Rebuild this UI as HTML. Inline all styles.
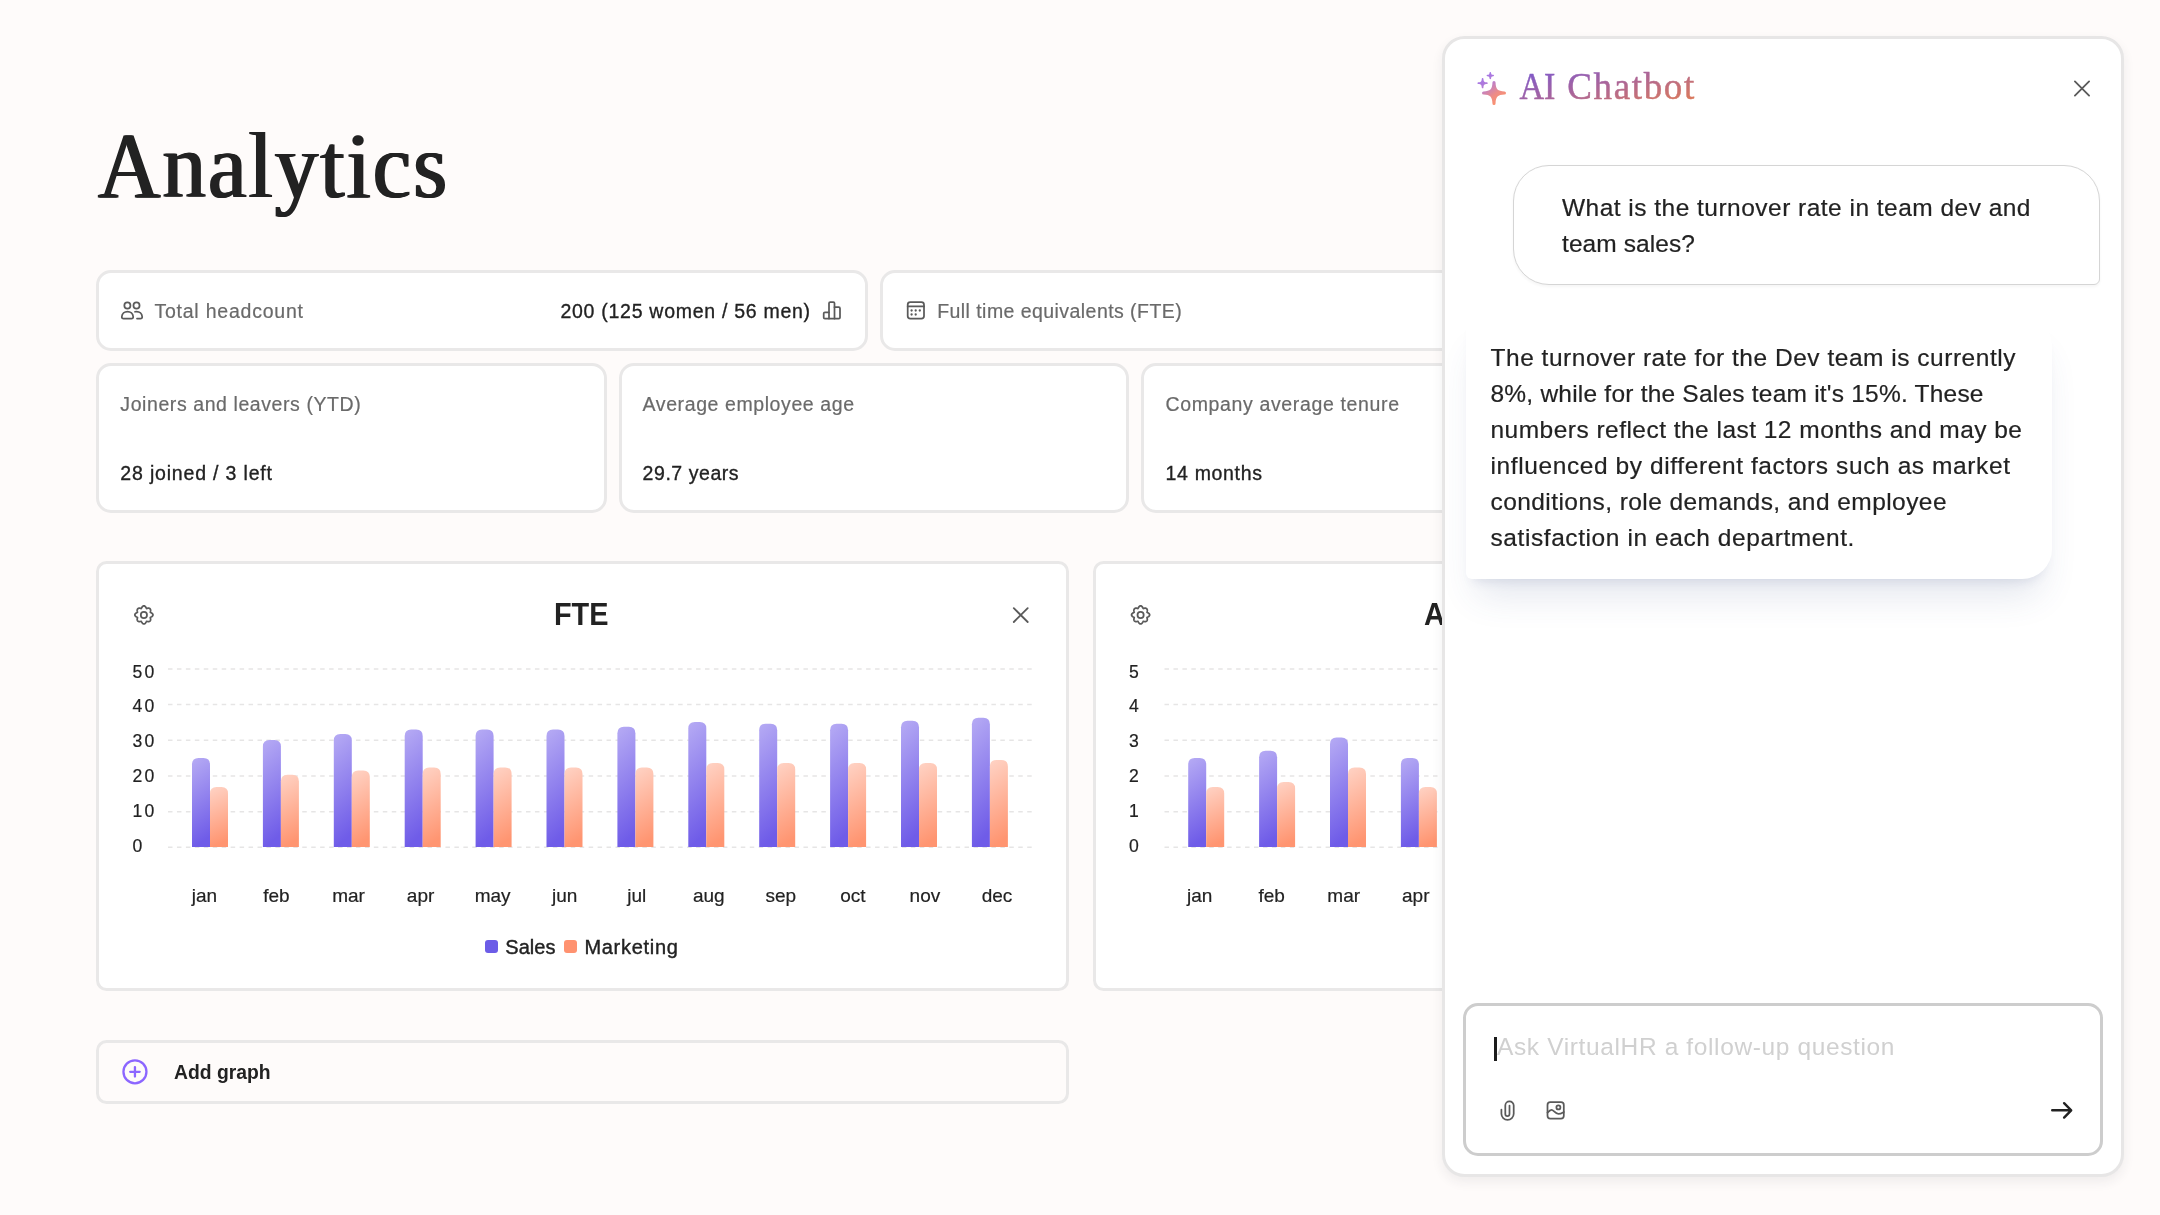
<!DOCTYPE html>
<html><head><meta charset="utf-8"><title>Analytics</title>
<style>
html,body{margin:0;padding:0}
body{width:2160px;height:1215px;background:#fefbfa;position:relative;overflow:hidden;font-family:"Liberation Sans",sans-serif;color:#222222}
.card{position:absolute;box-sizing:border-box}
.t{position:absolute;white-space:nowrap;line-height:1}
.a{position:absolute}
.layer{position:absolute;left:0;top:0;width:2160px;height:1215px;will-change:transform}
svg{position:absolute;overflow:visible}
</style></head><body>
<div class="layer">
<div class="card" style="left:96px;top:270px;width:772px;height:81px;border-radius:15px;border:3px solid #e9e8e8;background:#fff;"></div>
<div class="card" style="left:880px;top:270px;width:772px;height:81px;border-radius:15px;border:3px solid #e9e8e8;background:#fff;"></div>
<div class="card" style="left:96px;top:363px;width:510.67px;height:150px;border-radius:15px;border:3px solid #e9e8e8;background:#fff;"></div>
<div class="card" style="left:618.67px;top:363px;width:510.67px;height:150px;border-radius:15px;border:3px solid #e9e8e8;background:#fff;"></div>
<div class="card" style="left:1141.33px;top:363px;width:510.67px;height:150px;border-radius:15px;border:3px solid #e9e8e8;background:#fff;"></div>
<div class="card" style="left:96px;top:561px;width:972.5px;height:430.3px;border-radius:10.5px;border:3px solid #e9e8e8;background:#fff;"></div>
<div class="card" style="left:1093px;top:561px;width:972.5px;height:430.3px;border-radius:10.5px;border:3px solid #e9e8e8;background:#fff;"></div>
<div class="card" style="left:96px;top:1039.5px;width:972.5px;height:64.5px;border-radius:10.5px;border:3px solid #e9e8e8;background:#fefbfa;"></div>
<svg width="0" height="0" style="left:0;top:0"><defs>
<linearGradient id="gp" x1="0" y1="0" x2="0.14" y2="1"><stop offset="0" stop-color="#b6abf4"/><stop offset="1" stop-color="#6f5ce8"/></linearGradient>
<linearGradient id="go" x1="0" y1="0" x2="0.14" y2="1"><stop offset="0" stop-color="#ffd3c5"/><stop offset="1" stop-color="#ff9571"/></linearGradient>
</defs></svg>
<svg style="left:0;top:0" width="2160" height="1215" viewBox="0 0 2160 1215"><line x1="168" y1="668.9" x2="1033" y2="668.9" stroke="#e6e5e5" stroke-width="1.5" stroke-dasharray="4.5 4.45"/><line x1="168" y1="704.6" x2="1033" y2="704.6" stroke="#e6e5e5" stroke-width="1.5" stroke-dasharray="4.5 4.45"/><line x1="168" y1="740.3" x2="1033" y2="740.3" stroke="#e6e5e5" stroke-width="1.5" stroke-dasharray="4.5 4.45"/><line x1="168" y1="776.0" x2="1033" y2="776.0" stroke="#e6e5e5" stroke-width="1.5" stroke-dasharray="4.5 4.45"/><line x1="168" y1="811.7" x2="1033" y2="811.7" stroke="#e6e5e5" stroke-width="1.5" stroke-dasharray="4.5 4.45"/><line x1="168" y1="847.3" x2="1033" y2="847.3" stroke="#e6e5e5" stroke-width="1.5" stroke-dasharray="4.5 4.45"/><path d="M192.0 847 V764.5 Q192.0 758.0 198.5 758.0 H203.5 Q210.0 758.0 210.0 764.5 V847 Z" fill="url(#gp)"/><path d="M210.0 847 V793.5 Q210.0 787.0 216.5 787.0 H221.5 Q228.0 787.0 228.0 793.5 V847 Z" fill="url(#go)"/><path d="M262.9 847 V746.5 Q262.9 740.0 269.4 740.0 H274.4 Q280.9 740.0 280.9 746.5 V847 Z" fill="url(#gp)"/><path d="M280.9 847 V781.3 Q280.9 774.8 287.4 774.8 H292.4 Q298.9 774.8 298.9 781.3 V847 Z" fill="url(#go)"/><path d="M333.8 847 V740.5 Q333.8 734.0 340.3 734.0 H345.3 Q351.8 734.0 351.8 740.5 V847 Z" fill="url(#gp)"/><path d="M351.8 847 V776.9 Q351.8 770.4 358.3 770.4 H363.3 Q369.8 770.4 369.8 776.9 V847 Z" fill="url(#go)"/><path d="M404.7 847 V736.1 Q404.7 729.6 411.2 729.6 H416.2 Q422.7 729.6 422.7 736.1 V847 Z" fill="url(#gp)"/><path d="M422.7 847 V773.9 Q422.7 767.4 429.2 767.4 H434.2 Q440.7 767.4 440.7 773.9 V847 Z" fill="url(#go)"/><path d="M475.6 847 V736.1 Q475.6 729.6 482.1 729.6 H487.1 Q493.6 729.6 493.6 736.1 V847 Z" fill="url(#gp)"/><path d="M493.6 847 V773.9 Q493.6 767.4 500.1 767.4 H505.1 Q511.6 767.4 511.6 773.9 V847 Z" fill="url(#go)"/><path d="M546.5 847 V736.1 Q546.5 729.6 553.0 729.6 H558.0 Q564.5 729.6 564.5 736.1 V847 Z" fill="url(#gp)"/><path d="M564.5 847 V773.9 Q564.5 767.4 571.0 767.4 H576.0 Q582.5 767.4 582.5 773.9 V847 Z" fill="url(#go)"/><path d="M617.4 847 V733.2 Q617.4 726.7 623.9 726.7 H628.9 Q635.4 726.7 635.4 733.2 V847 Z" fill="url(#gp)"/><path d="M635.4 847 V773.9 Q635.4 767.4 641.9 767.4 H646.9 Q653.4 767.4 653.4 773.9 V847 Z" fill="url(#go)"/><path d="M688.3 847 V728.5 Q688.3 722.0 694.8 722.0 H699.8 Q706.3 722.0 706.3 728.5 V847 Z" fill="url(#gp)"/><path d="M706.3 847 V769.5 Q706.3 763.0 712.8 763.0 H717.8 Q724.3 763.0 724.3 769.5 V847 Z" fill="url(#go)"/><path d="M759.2 847 V730.2 Q759.2 723.7 765.7 723.7 H770.7 Q777.2 723.7 777.2 730.2 V847 Z" fill="url(#gp)"/><path d="M777.2 847 V769.5 Q777.2 763.0 783.7 763.0 H788.7 Q795.2 763.0 795.2 769.5 V847 Z" fill="url(#go)"/><path d="M830.1 847 V730.2 Q830.1 723.7 836.6 723.7 H841.6 Q848.1 723.7 848.1 730.2 V847 Z" fill="url(#gp)"/><path d="M848.1 847 V769.5 Q848.1 763.0 854.6 763.0 H859.6 Q866.1 763.0 866.1 769.5 V847 Z" fill="url(#go)"/><path d="M901.0 847 V727.2 Q901.0 720.7 907.5 720.7 H912.5 Q919.0 720.7 919.0 727.2 V847 Z" fill="url(#gp)"/><path d="M919.0 847 V769.5 Q919.0 763.0 925.5 763.0 H930.5 Q937.0 763.0 937.0 769.5 V847 Z" fill="url(#go)"/><path d="M971.9 847 V724.3 Q971.9 717.8 978.4 717.8 H983.4 Q989.9 717.8 989.9 724.3 V847 Z" fill="url(#gp)"/><path d="M989.9 847 V766.5 Q989.9 760.0 996.4 760.0 H1001.4 Q1007.9 760.0 1007.9 766.5 V847 Z" fill="url(#go)"/></svg>
<svg style="left:0;top:0" width="2160" height="1215" viewBox="0 0 2160 1215"><line x1="1164.5" y1="668.9" x2="2030" y2="668.9" stroke="#e6e5e5" stroke-width="1.5" stroke-dasharray="4.5 4.45"/><line x1="1164.5" y1="704.6" x2="2030" y2="704.6" stroke="#e6e5e5" stroke-width="1.5" stroke-dasharray="4.5 4.45"/><line x1="1164.5" y1="740.3" x2="2030" y2="740.3" stroke="#e6e5e5" stroke-width="1.5" stroke-dasharray="4.5 4.45"/><line x1="1164.5" y1="776.0" x2="2030" y2="776.0" stroke="#e6e5e5" stroke-width="1.5" stroke-dasharray="4.5 4.45"/><line x1="1164.5" y1="811.7" x2="2030" y2="811.7" stroke="#e6e5e5" stroke-width="1.5" stroke-dasharray="4.5 4.45"/><line x1="1164.5" y1="847.3" x2="2030" y2="847.3" stroke="#e6e5e5" stroke-width="1.5" stroke-dasharray="4.5 4.45"/><path d="M1188.2 847 V764.5 Q1188.2 758.0 1194.7 758.0 H1199.7 Q1206.2 758.0 1206.2 764.5 V847 Z" fill="url(#gp)"/><path d="M1206.2 847 V793.5 Q1206.2 787.0 1212.7 787.0 H1217.7 Q1224.2 787.0 1224.2 793.5 V847 Z" fill="url(#go)"/><path d="M1259.1 847 V757.2 Q1259.1 750.7 1265.6 750.7 H1270.6 Q1277.1 750.7 1277.1 757.2 V847 Z" fill="url(#gp)"/><path d="M1277.1 847 V788.5 Q1277.1 782.0 1283.6 782.0 H1288.6 Q1295.1 782.0 1295.1 788.5 V847 Z" fill="url(#go)"/><path d="M1330.0 847 V743.9 Q1330.0 737.4 1336.5 737.4 H1341.5 Q1348.0 737.4 1348.0 743.9 V847 Z" fill="url(#gp)"/><path d="M1348.0 847 V773.9 Q1348.0 767.4 1354.5 767.4 H1359.5 Q1366.0 767.4 1366.0 773.9 V847 Z" fill="url(#go)"/><path d="M1400.9 847 V764.5 Q1400.9 758.0 1407.4 758.0 H1412.4 Q1418.9 758.0 1418.9 764.5 V847 Z" fill="url(#gp)"/><path d="M1418.9 847 V793.5 Q1418.9 787.0 1425.4 787.0 H1430.4 Q1436.9 787.0 1436.9 793.5 V847 Z" fill="url(#go)"/><path d="M1471.8 847 V746.5 Q1471.8 740.0 1478.3 740.0 H1483.3 Q1489.8 740.0 1489.8 746.5 V847 Z" fill="url(#gp)"/><path d="M1489.8 847 V781.5 Q1489.8 775.0 1496.3 775.0 H1501.3 Q1507.8 775.0 1507.8 781.5 V847 Z" fill="url(#go)"/><path d="M1542.7 847 V741.5 Q1542.7 735.0 1549.2 735.0 H1554.2 Q1560.7 735.0 1560.7 741.5 V847 Z" fill="url(#gp)"/><path d="M1560.7 847 V776.5 Q1560.7 770.0 1567.2 770.0 H1572.2 Q1578.7 770.0 1578.7 776.5 V847 Z" fill="url(#go)"/><path d="M1613.6 847 V736.5 Q1613.6 730.0 1620.1 730.0 H1625.1 Q1631.6 730.0 1631.6 736.5 V847 Z" fill="url(#gp)"/><path d="M1631.6 847 V773.5 Q1631.6 767.0 1638.1 767.0 H1643.1 Q1649.6 767.0 1649.6 773.5 V847 Z" fill="url(#go)"/><path d="M1684.5 847 V732.5 Q1684.5 726.0 1691.0 726.0 H1696.0 Q1702.5 726.0 1702.5 732.5 V847 Z" fill="url(#gp)"/><path d="M1702.5 847 V771.5 Q1702.5 765.0 1709.0 765.0 H1714.0 Q1720.5 765.0 1720.5 771.5 V847 Z" fill="url(#go)"/><path d="M1755.4 847 V730.5 Q1755.4 724.0 1761.9 724.0 H1766.9 Q1773.4 724.0 1773.4 730.5 V847 Z" fill="url(#gp)"/><path d="M1773.4 847 V769.5 Q1773.4 763.0 1779.9 763.0 H1784.9 Q1791.4 763.0 1791.4 769.5 V847 Z" fill="url(#go)"/><path d="M1826.3 847 V728.5 Q1826.3 722.0 1832.8 722.0 H1837.8 Q1844.3 722.0 1844.3 728.5 V847 Z" fill="url(#gp)"/><path d="M1844.3 847 V769.5 Q1844.3 763.0 1850.8 763.0 H1855.8 Q1862.3 763.0 1862.3 769.5 V847 Z" fill="url(#go)"/><path d="M1897.2 847 V726.5 Q1897.2 720.0 1903.7 720.0 H1908.7 Q1915.2 720.0 1915.2 726.5 V847 Z" fill="url(#gp)"/><path d="M1915.2 847 V768.5 Q1915.2 762.0 1921.7 762.0 H1926.7 Q1933.2 762.0 1933.2 768.5 V847 Z" fill="url(#go)"/><path d="M1968.1 847 V724.5 Q1968.1 718.0 1974.6 718.0 H1979.6 Q1986.1 718.0 1986.1 724.5 V847 Z" fill="url(#gp)"/><path d="M1986.1 847 V766.5 Q1986.1 760.0 1992.6 760.0 H1997.6 Q2004.1 760.0 2004.1 766.5 V847 Z" fill="url(#go)"/></svg>
<div class="a" style="left:484.9px;top:939.9px;width:13px;height:13px;border-radius:3px;background:#6c5ce7"></div>
<div class="a" style="left:563.9px;top:939.9px;width:13px;height:13px;border-radius:3px;background:#ff9270"></div>
<svg style="left:0;top:0" width="2160" height="1215" viewBox="0 0 2160 1215" fill="none" stroke-linecap="round" stroke-linejoin="round"><g stroke="#5a5a5a" stroke-width="1.75"><circle cx="127.4" cy="305.5" r="3.05"/><circle cx="136.5" cy="305.5" r="3.05"/><path d="M123.6 318.6 H131.4 Q133.3 318.6 133.2 316.8 C133 313.5 130.4 311.5 127.5 311.5 C124.6 311.5 122 313.5 121.8 316.8 Q121.7 318.6 123.6 318.6 Z"/><path d="M135 311.8 Q135.8 311.5 136.6 311.5 C139.5 311.5 142 313.5 142.2 316.8 Q142.3 318.6 140.4 318.6 H137"/></g><g stroke="#5a5a5a" stroke-width="1.75"><path d="M829 312.3 H824.9 Q823.7 312.3 823.7 313.5 V317.4 Q823.7 318.6 824.9 318.6 H838.8 Q840 318.6 840 317.4 V308.4 Q840 307.2 838.8 307.2 H834.5"/><path d="M829 318.6 V303.2 Q829 302 830.2 302 H833.3 Q834.5 302 834.5 303.2 V318.6"/></g><g stroke="#5a5a5a" stroke-width="1.75"><rect x="907.7" y="302.2" width="16.3" height="16.4" rx="2.6"/><path d="M907.7 306.4 H924"/></g><g fill="#5a5a5a"><circle cx="911.6" cy="310.5" r="1.15"/><circle cx="915.7" cy="310.5" r="1.15"/><circle cx="919.8" cy="310.5" r="1.15"/><circle cx="911.6" cy="314.5" r="1.15"/><circle cx="915.7" cy="314.5" r="1.15"/></g><g stroke="#5a5a5a" stroke-width="1.75"><path d="M143.90 605.85 L144.34 605.92 L144.77 606.11 L145.16 606.41 L145.51 606.80 L145.82 607.24 L146.08 607.71 L146.31 608.16 L146.54 608.53 L146.96 608.43 L147.42 608.31 L147.90 608.22 L148.39 608.18 L148.86 608.22 L149.29 608.33 L149.68 608.52 L150.02 608.78 L150.28 609.12 L150.47 609.51 L150.58 609.94 L150.62 610.41 L150.58 610.90 L150.49 611.38 L150.37 611.84 L150.27 612.26 L150.64 612.49 L151.09 612.72 L151.56 612.98 L152.00 613.29 L152.39 613.64 L152.69 614.03 L152.88 614.46 L152.95 614.90 L152.88 615.34 L152.69 615.77 L152.39 616.16 L152.00 616.51 L151.56 616.82 L151.09 617.08 L150.64 617.31 L150.27 617.54 L150.37 617.96 L150.49 618.42 L150.58 618.90 L150.62 619.39 L150.58 619.86 L150.47 620.29 L150.28 620.68 L150.02 621.02 L149.68 621.28 L149.29 621.47 L148.86 621.58 L148.39 621.62 L147.90 621.58 L147.42 621.49 L146.96 621.37 L146.54 621.27 L146.31 621.64 L146.08 622.09 L145.82 622.56 L145.51 623.00 L145.16 623.39 L144.77 623.69 L144.34 623.88 L143.90 623.95 L143.46 623.88 L143.03 623.69 L142.64 623.39 L142.29 623.00 L141.98 622.56 L141.72 622.09 L141.49 621.64 L141.26 621.27 L140.84 621.37 L140.38 621.49 L139.90 621.58 L139.41 621.62 L138.94 621.58 L138.51 621.47 L138.12 621.28 L137.78 621.02 L137.52 620.68 L137.33 620.29 L137.22 619.86 L137.18 619.39 L137.22 618.90 L137.31 618.42 L137.43 617.96 L137.53 617.54 L137.16 617.31 L136.71 617.08 L136.24 616.82 L135.80 616.51 L135.41 616.16 L135.11 615.77 L134.92 615.34 L134.85 614.90 L134.92 614.46 L135.11 614.03 L135.41 613.64 L135.80 613.29 L136.24 612.98 L136.71 612.72 L137.16 612.49 L137.53 612.26 L137.43 611.84 L137.31 611.38 L137.22 610.90 L137.18 610.41 L137.22 609.94 L137.33 609.51 L137.52 609.12 L137.78 608.78 L138.12 608.52 L138.51 608.33 L138.94 608.22 L139.41 608.18 L139.90 608.22 L140.38 608.31 L140.84 608.43 L141.26 608.53 L141.49 608.16 L141.72 607.71 L141.98 607.24 L142.29 606.80 L142.64 606.41 L143.03 606.11 L143.46 605.92 Z"/><circle cx="143.9" cy="614.9" r="3.1"/></g><g stroke="#5a5a5a" stroke-width="1.75"><path d="M1140.60 605.85 L1141.04 605.92 L1141.47 606.11 L1141.86 606.41 L1142.21 606.80 L1142.52 607.24 L1142.78 607.71 L1143.01 608.16 L1143.24 608.53 L1143.66 608.43 L1144.12 608.31 L1144.60 608.22 L1145.09 608.18 L1145.56 608.22 L1145.99 608.33 L1146.38 608.52 L1146.72 608.78 L1146.98 609.12 L1147.17 609.51 L1147.28 609.94 L1147.32 610.41 L1147.28 610.90 L1147.19 611.38 L1147.07 611.84 L1146.97 612.26 L1147.34 612.49 L1147.79 612.72 L1148.26 612.98 L1148.70 613.29 L1149.09 613.64 L1149.39 614.03 L1149.58 614.46 L1149.65 614.90 L1149.58 615.34 L1149.39 615.77 L1149.09 616.16 L1148.70 616.51 L1148.26 616.82 L1147.79 617.08 L1147.34 617.31 L1146.97 617.54 L1147.07 617.96 L1147.19 618.42 L1147.28 618.90 L1147.32 619.39 L1147.28 619.86 L1147.17 620.29 L1146.98 620.68 L1146.72 621.02 L1146.38 621.28 L1145.99 621.47 L1145.56 621.58 L1145.09 621.62 L1144.60 621.58 L1144.12 621.49 L1143.66 621.37 L1143.24 621.27 L1143.01 621.64 L1142.78 622.09 L1142.52 622.56 L1142.21 623.00 L1141.86 623.39 L1141.47 623.69 L1141.04 623.88 L1140.60 623.95 L1140.16 623.88 L1139.73 623.69 L1139.34 623.39 L1138.99 623.00 L1138.68 622.56 L1138.42 622.09 L1138.19 621.64 L1137.96 621.27 L1137.54 621.37 L1137.08 621.49 L1136.60 621.58 L1136.11 621.62 L1135.64 621.58 L1135.21 621.47 L1134.82 621.28 L1134.48 621.02 L1134.22 620.68 L1134.03 620.29 L1133.92 619.86 L1133.88 619.39 L1133.92 618.90 L1134.01 618.42 L1134.13 617.96 L1134.23 617.54 L1133.86 617.31 L1133.41 617.08 L1132.94 616.82 L1132.50 616.51 L1132.11 616.16 L1131.81 615.77 L1131.62 615.34 L1131.55 614.90 L1131.62 614.46 L1131.81 614.03 L1132.11 613.64 L1132.50 613.29 L1132.94 612.98 L1133.41 612.72 L1133.86 612.49 L1134.23 612.26 L1134.13 611.84 L1134.01 611.38 L1133.92 610.90 L1133.88 610.41 L1133.92 609.94 L1134.03 609.51 L1134.22 609.12 L1134.48 608.78 L1134.82 608.52 L1135.21 608.33 L1135.64 608.22 L1136.11 608.18 L1136.60 608.22 L1137.08 608.31 L1137.54 608.43 L1137.96 608.53 L1138.19 608.16 L1138.42 607.71 L1138.68 607.24 L1138.99 606.80 L1139.34 606.41 L1139.73 606.11 L1140.16 605.92 Z"/><circle cx="1140.6" cy="614.9" r="3.1"/></g><path stroke="#5a5a5a" stroke-width="1.8" d="M1013.8 608.2 L1027.7 622 M1027.7 608.2 L1013.8 622"/><g stroke="#8c66ff" stroke-width="2.3"><circle cx="134.95" cy="1071.8" r="11.5"/><path d="M130.2 1071.8 H139.7 M134.95 1067.1 V1076.5"/></g></svg>
<div class="t" style="left:98.00px;top:119.00px;font-family:'Liberation Serif',serif;font-size:93px;font-weight:400;color:#222;letter-spacing:2.354px;transform:scaleX(0.93);transform-origin:0 0;text-shadow:1.2px 0 0 #222,-1.2px 0 0 #222;">Analytics</div>
<div class="t" style="left:154.40px;top:302.00px;font-family:'Liberation Sans',sans-serif;font-size:19.5px;font-weight:400;color:#6a6a6a;letter-spacing:0.778px;-webkit-text-stroke:0.2px #6a6a6a;">Total headcount</div>
<div class="t" style="left:560.50px;top:302.00px;font-family:'Liberation Sans',sans-serif;font-size:19.5px;font-weight:400;color:#222222;letter-spacing:0.715px;-webkit-text-stroke:0.33px #222;">200 (125 women / 56 men)</div>
<div class="t" style="left:937.20px;top:302.00px;font-family:'Liberation Sans',sans-serif;font-size:19.5px;font-weight:400;color:#6a6a6a;letter-spacing:0.443px;-webkit-text-stroke:0.2px #6a6a6a;">Full time equivalents (FTE)</div>
<div class="t" style="left:120.30px;top:395.00px;font-family:'Liberation Sans',sans-serif;font-size:19.5px;font-weight:400;color:#6a6a6a;letter-spacing:0.579px;-webkit-text-stroke:0.2px #6a6a6a;">Joiners and leavers (YTD)</div>
<div class="t" style="left:120.30px;top:464.00px;font-family:'Liberation Sans',sans-serif;font-size:19.5px;font-weight:400;color:#222222;letter-spacing:0.824px;-webkit-text-stroke:0.33px #222;">28 joined / 3 left</div>
<div class="t" style="left:642.60px;top:395.00px;font-family:'Liberation Sans',sans-serif;font-size:19.5px;font-weight:400;color:#6a6a6a;letter-spacing:0.589px;-webkit-text-stroke:0.2px #6a6a6a;">Average employee age</div>
<div class="t" style="left:642.60px;top:464.00px;font-family:'Liberation Sans',sans-serif;font-size:19.5px;font-weight:400;color:#222222;letter-spacing:0.549px;-webkit-text-stroke:0.33px #222;">29.7 years</div>
<div class="t" style="left:1165.50px;top:395.00px;font-family:'Liberation Sans',sans-serif;font-size:19.5px;font-weight:400;color:#6a6a6a;letter-spacing:0.640px;-webkit-text-stroke:0.2px #6a6a6a;">Company average tenure</div>
<div class="t" style="left:1165.50px;top:464.00px;font-family:'Liberation Sans',sans-serif;font-size:19.5px;font-weight:400;color:#222222;letter-spacing:0.680px;-webkit-text-stroke:0.33px #222;">14 months</div>
<div class="t" style="left:554.00px;top:599.00px;font-family:'Liberation Sans',sans-serif;font-size:30.5px;font-weight:700;color:#222222;letter-spacing:0.000px;transform:scaleX(0.9460);transform-origin:0 0;">FTE</div>
<div class="t" style="left:1423.60px;top:599.00px;font-family:'Liberation Sans',sans-serif;font-size:30.5px;font-weight:700;color:#222222;letter-spacing:0.000px;transform:scaleX(0.9532);transform-origin:0 0;">A</div>
<div class="t" style="left:132.60px;top:664.00px;font-family:'Liberation Sans',sans-serif;font-size:17.6px;font-weight:400;color:#222222;letter-spacing:2.022px;-webkit-text-stroke:0.2px #222;">50</div>
<div class="t" style="left:132.60px;top:698.00px;font-family:'Liberation Sans',sans-serif;font-size:17.6px;font-weight:400;color:#222222;letter-spacing:2.022px;-webkit-text-stroke:0.2px #222;">40</div>
<div class="t" style="left:132.60px;top:733.00px;font-family:'Liberation Sans',sans-serif;font-size:17.6px;font-weight:400;color:#222222;letter-spacing:2.022px;-webkit-text-stroke:0.2px #222;">30</div>
<div class="t" style="left:132.60px;top:768.00px;font-family:'Liberation Sans',sans-serif;font-size:17.6px;font-weight:400;color:#222222;letter-spacing:2.022px;-webkit-text-stroke:0.2px #222;">20</div>
<div class="t" style="left:132.60px;top:803.00px;font-family:'Liberation Sans',sans-serif;font-size:17.6px;font-weight:400;color:#222222;letter-spacing:2.022px;-webkit-text-stroke:0.2px #222;">10</div>
<div class="t" style="left:132.60px;top:838.00px;font-family:'Liberation Sans',sans-serif;font-size:17.6px;font-weight:400;color:#222222;letter-spacing:0.000px;-webkit-text-stroke:0.2px #222;">0</div>
<div class="t" style="left:191.72px;top:886.00px;font-family:'Liberation Sans',sans-serif;font-size:19px;font-weight:400;color:#222222;letter-spacing:0.000px;-webkit-text-stroke:0.2px #222;">jan</div>
<div class="t" style="left:263.24px;top:886.00px;font-family:'Liberation Sans',sans-serif;font-size:19px;font-weight:400;color:#222222;letter-spacing:0.000px;-webkit-text-stroke:0.2px #222;">feb</div>
<div class="t" style="left:332.13px;top:886.00px;font-family:'Liberation Sans',sans-serif;font-size:19px;font-weight:400;color:#222222;letter-spacing:0.000px;-webkit-text-stroke:0.2px #222;">mar</div>
<div class="t" style="left:406.82px;top:886.00px;font-family:'Liberation Sans',sans-serif;font-size:19px;font-weight:400;color:#222222;letter-spacing:0.000px;-webkit-text-stroke:0.2px #222;">apr</div>
<div class="t" style="left:474.65px;top:886.00px;font-family:'Liberation Sans',sans-serif;font-size:19px;font-weight:400;color:#222222;letter-spacing:0.000px;-webkit-text-stroke:0.2px #222;">may</div>
<div class="t" style="left:551.97px;top:886.00px;font-family:'Liberation Sans',sans-serif;font-size:19px;font-weight:400;color:#222222;letter-spacing:0.000px;-webkit-text-stroke:0.2px #222;">jun</div>
<div class="t" style="left:627.19px;top:886.00px;font-family:'Liberation Sans',sans-serif;font-size:19px;font-weight:400;color:#222222;letter-spacing:0.000px;-webkit-text-stroke:0.2px #222;">jul</div>
<div class="t" style="left:692.90px;top:886.00px;font-family:'Liberation Sans',sans-serif;font-size:19px;font-weight:400;color:#222222;letter-spacing:0.000px;-webkit-text-stroke:0.2px #222;">aug</div>
<div class="t" style="left:765.48px;top:886.00px;font-family:'Liberation Sans',sans-serif;font-size:19px;font-weight:400;color:#222222;letter-spacing:0.000px;-webkit-text-stroke:0.2px #222;">sep</div>
<div class="t" style="left:840.17px;top:886.00px;font-family:'Liberation Sans',sans-serif;font-size:19px;font-weight:400;color:#222222;letter-spacing:0.000px;-webkit-text-stroke:0.2px #222;">oct</div>
<div class="t" style="left:909.58px;top:886.00px;font-family:'Liberation Sans',sans-serif;font-size:19px;font-weight:400;color:#222222;letter-spacing:0.000px;-webkit-text-stroke:0.2px #222;">nov</div>
<div class="t" style="left:981.63px;top:886.00px;font-family:'Liberation Sans',sans-serif;font-size:19px;font-weight:400;color:#222222;letter-spacing:0.000px;-webkit-text-stroke:0.2px #222;">dec</div>
<div class="t" style="left:1129.00px;top:664.00px;font-family:'Liberation Sans',sans-serif;font-size:17.6px;font-weight:400;color:#222222;letter-spacing:0.000px;-webkit-text-stroke:0.2px #222;">5</div>
<div class="t" style="left:1129.00px;top:698.00px;font-family:'Liberation Sans',sans-serif;font-size:17.6px;font-weight:400;color:#222222;letter-spacing:0.000px;-webkit-text-stroke:0.2px #222;">4</div>
<div class="t" style="left:1129.00px;top:733.00px;font-family:'Liberation Sans',sans-serif;font-size:17.6px;font-weight:400;color:#222222;letter-spacing:0.000px;-webkit-text-stroke:0.2px #222;">3</div>
<div class="t" style="left:1129.00px;top:768.00px;font-family:'Liberation Sans',sans-serif;font-size:17.6px;font-weight:400;color:#222222;letter-spacing:0.000px;-webkit-text-stroke:0.2px #222;">2</div>
<div class="t" style="left:1129.00px;top:803.00px;font-family:'Liberation Sans',sans-serif;font-size:17.6px;font-weight:400;color:#222222;letter-spacing:0.000px;-webkit-text-stroke:0.2px #222;">1</div>
<div class="t" style="left:1129.00px;top:838.00px;font-family:'Liberation Sans',sans-serif;font-size:17.6px;font-weight:400;color:#222222;letter-spacing:0.000px;-webkit-text-stroke:0.2px #222;">0</div>
<div class="t" style="left:1186.92px;top:886.00px;font-family:'Liberation Sans',sans-serif;font-size:19px;font-weight:400;color:#222222;letter-spacing:0.000px;-webkit-text-stroke:0.2px #222;">jan</div>
<div class="t" style="left:1258.44px;top:886.00px;font-family:'Liberation Sans',sans-serif;font-size:19px;font-weight:400;color:#222222;letter-spacing:0.000px;-webkit-text-stroke:0.2px #222;">feb</div>
<div class="t" style="left:1327.33px;top:886.00px;font-family:'Liberation Sans',sans-serif;font-size:19px;font-weight:400;color:#222222;letter-spacing:0.000px;-webkit-text-stroke:0.2px #222;">mar</div>
<div class="t" style="left:1402.02px;top:886.00px;font-family:'Liberation Sans',sans-serif;font-size:19px;font-weight:400;color:#222222;letter-spacing:0.000px;-webkit-text-stroke:0.2px #222;">apr</div>
<div class="t" style="left:1469.85px;top:886.00px;font-family:'Liberation Sans',sans-serif;font-size:19px;font-weight:400;color:#222222;letter-spacing:0.000px;-webkit-text-stroke:0.2px #222;">may</div>
<div class="t" style="left:1547.17px;top:886.00px;font-family:'Liberation Sans',sans-serif;font-size:19px;font-weight:400;color:#222222;letter-spacing:0.000px;-webkit-text-stroke:0.2px #222;">jun</div>
<div class="t" style="left:1622.39px;top:886.00px;font-family:'Liberation Sans',sans-serif;font-size:19px;font-weight:400;color:#222222;letter-spacing:0.000px;-webkit-text-stroke:0.2px #222;">jul</div>
<div class="t" style="left:1688.10px;top:886.00px;font-family:'Liberation Sans',sans-serif;font-size:19px;font-weight:400;color:#222222;letter-spacing:0.000px;-webkit-text-stroke:0.2px #222;">aug</div>
<div class="t" style="left:1760.68px;top:886.00px;font-family:'Liberation Sans',sans-serif;font-size:19px;font-weight:400;color:#222222;letter-spacing:0.000px;-webkit-text-stroke:0.2px #222;">sep</div>
<div class="t" style="left:1835.37px;top:886.00px;font-family:'Liberation Sans',sans-serif;font-size:19px;font-weight:400;color:#222222;letter-spacing:0.000px;-webkit-text-stroke:0.2px #222;">oct</div>
<div class="t" style="left:1904.78px;top:886.00px;font-family:'Liberation Sans',sans-serif;font-size:19px;font-weight:400;color:#222222;letter-spacing:0.000px;-webkit-text-stroke:0.2px #222;">nov</div>
<div class="t" style="left:1976.83px;top:886.00px;font-family:'Liberation Sans',sans-serif;font-size:19px;font-weight:400;color:#222222;letter-spacing:0.000px;-webkit-text-stroke:0.2px #222;">dec</div>
<div class="t" style="left:505.30px;top:937.00px;font-family:'Liberation Sans',sans-serif;font-size:20px;font-weight:400;color:#222222;letter-spacing:0.042px;-webkit-text-stroke:0.4px #222;">Sales</div>
<div class="t" style="left:584.40px;top:937.00px;font-family:'Liberation Sans',sans-serif;font-size:20px;font-weight:400;color:#222222;letter-spacing:0.723px;-webkit-text-stroke:0.4px #222;">Marketing</div>
<div class="t" style="left:174.40px;top:1062.00px;font-family:'Liberation Sans',sans-serif;font-size:20px;font-weight:700;color:#222222;letter-spacing:0.000px;transform:scaleX(0.9660);transform-origin:0 0;">Add graph</div>
</div>
<div class="layer">
<div class="card" style="left:1441.7px;top:36px;width:682.4px;height:1141.2px;border-radius:22.5px;border:3px solid #e7e6e6;background:#fff;box-shadow:0 5px 12px rgba(40,40,60,0.07)"></div>
<svg style="left:0;top:0" width="2160" height="1215" viewBox="0 0 2160 1215"><defs><linearGradient id="gt" gradientUnits="userSpaceOnUse" x1="1594" y1="41.6" x2="1619.6" y2="132.4"><stop offset="0" stop-color="#6f56dc"/><stop offset="0.45" stop-color="#a8649c"/><stop offset="1" stop-color="#ea8048"/></linearGradient></defs><g font-family="Liberation Serif, serif" font-size="37" fill="url(#gt)" stroke="url(#gt)" stroke-width="0.45"><text x="1519.4" y="99" textLength="36" lengthAdjust="spacingAndGlyphs">AI</text><text x="1567.2" y="99" textLength="127" lengthAdjust="spacing">Chatbot</text></g></svg>
<div class="card" style="left:1513.3px;top:165px;width:586.7px;height:120px;border-radius:36px 36px 6px 36px;border:1.5px solid #d5d5d5;background:#fff;box-shadow:0 1.5px 3px rgba(0,0,0,0.04)"></div>
<div class="card" style="left:1465.7px;top:316px;width:586.5px;height:263px;border-radius:6px 30px 30px 6px;background:#fff;box-shadow:0 27px 36px -11px rgba(60,80,135,0.14), 0 9px 11px -7px rgba(60,80,135,0.13)"></div>
<div class="card" style="left:1462.6px;top:1003.3px;width:640.2px;height:152.7px;border-radius:15px;border:3px solid #cdcdcd;background:#fff"></div>
<div class="a" style="left:1494.3px;top:1036.5px;width:2.5px;height:24px;background:#1c1c1c"></div>
<svg style="left:0;top:0" width="2160" height="1215" viewBox="0 0 2160 1215" fill="none" stroke-linecap="round" stroke-linejoin="round"><defs><linearGradient id="gs" gradientUnits="userSpaceOnUse" x1="1480" y1="74" x2="1502" y2="104"><stop offset="0" stop-color="#9d72ee"/><stop offset="0.32" stop-color="#b27cd8"/><stop offset="0.68" stop-color="#ee8c86"/><stop offset="1" stop-color="#ff9466"/></linearGradient></defs><path fill="url(#gs)" d="M1492.45 82.55 A1.55 1.55 0 0 1 1495.55 82.55C1495.80 89.30 1497.70 91.20 1504.45 91.45A1.55 1.55 0 0 1 1504.45 94.55C1497.70 94.80 1495.80 96.70 1495.55 103.45A1.55 1.55 0 0 1 1492.45 103.45C1492.20 96.70 1490.30 94.80 1483.55 94.55A1.55 1.55 0 0 1 1483.55 91.45C1490.30 91.20 1492.20 89.30 1492.45 82.55ZM1481.75 78.95 A0.85 0.85 0 0 1 1483.45 78.95C1483.70 81.60 1484.20 82.10 1486.85 82.35A0.85 0.85 0 0 1 1486.85 84.05C1484.20 84.30 1483.70 84.80 1483.45 87.45A0.85 0.85 0 0 1 1481.75 87.45C1481.50 84.80 1481.00 84.30 1478.35 84.05A0.85 0.85 0 0 1 1478.35 82.35C1481.00 82.10 1481.50 81.60 1481.75 78.95ZM1489.55 72.65 A0.75 0.75 0 0 1 1491.05 72.65C1491.30 74.40 1491.50 74.60 1493.25 74.85A0.75 0.75 0 0 1 1493.25 76.35C1491.50 76.60 1491.30 76.80 1491.05 78.55A0.75 0.75 0 0 1 1489.55 78.55C1489.30 76.80 1489.10 76.60 1487.35 76.35A0.75 0.75 0 0 1 1487.35 74.85C1489.10 74.60 1489.30 74.40 1489.55 72.65Z"/><path stroke="#5a5a5a" stroke-width="1.8" d="M2074.9 81.4 L2089.1 95.6 M2089.1 81.4 L2074.9 95.6"/><path stroke="#5a5a5a" stroke-width="1.75" d="M1509.5 1105.5 V1113.9 A2.1 2.1 0 0 1 1505.3 1113.9 V1105.5 A4.2 4.2 0 0 1 1513.7 1105.5 V1113.7 A6.15 6.15 0 0 1 1501.4 1113.7 V1109.6"/><g stroke="#5a5a5a" stroke-width="1.75"><rect x="1547.5" y="1102.2" width="16.3" height="16.4" rx="2.8"/><circle cx="1558.4" cy="1107.4" r="2.0"/><path d="M1547.5 1112.7 C1549 1111 1550.2 1109.8 1551.5 1109.8 C1553.6 1109.8 1555 1113.9 1558.4 1113.9 C1560.5 1113.9 1562 1113 1563.8 1112"/></g><path stroke="#222" stroke-width="2.4" d="M2052.2 1110.3 H2071 M2064.1 1103.2 L2071.2 1110.3 L2064.1 1117.6"/></svg>
<div class="t" style="left:1562.00px;top:196.00px;font-family:'Liberation Sans',sans-serif;font-size:24.5px;font-weight:400;color:#222222;letter-spacing:0.477px;-webkit-text-stroke:0.2px #222;">What is the turnover rate in team dev and</div>
<div class="t" style="left:1562.00px;top:232.00px;font-family:'Liberation Sans',sans-serif;font-size:24.5px;font-weight:400;color:#222222;letter-spacing:0.089px;-webkit-text-stroke:0.2px #222;">team sales?</div>
<div class="t" style="left:1490.50px;top:346.00px;font-family:'Liberation Sans',sans-serif;font-size:24.5px;font-weight:400;color:#222222;letter-spacing:0.518px;-webkit-text-stroke:0.2px #222;">The turnover rate for the Dev team is currently</div>
<div class="t" style="left:1490.50px;top:382.00px;font-family:'Liberation Sans',sans-serif;font-size:24.5px;font-weight:400;color:#222222;letter-spacing:0.219px;-webkit-text-stroke:0.2px #222;">8%, while for the Sales team it's 15%. These</div>
<div class="t" style="left:1490.50px;top:418.00px;font-family:'Liberation Sans',sans-serif;font-size:24.5px;font-weight:400;color:#222222;letter-spacing:0.473px;-webkit-text-stroke:0.2px #222;">numbers reflect the last 12 months and may be</div>
<div class="t" style="left:1490.50px;top:454.00px;font-family:'Liberation Sans',sans-serif;font-size:24.5px;font-weight:400;color:#222222;letter-spacing:0.599px;-webkit-text-stroke:0.2px #222;">influenced by different factors such as market</div>
<div class="t" style="left:1490.50px;top:490.00px;font-family:'Liberation Sans',sans-serif;font-size:24.5px;font-weight:400;color:#222222;letter-spacing:0.435px;-webkit-text-stroke:0.2px #222;">conditions, role demands, and employee</div>
<div class="t" style="left:1490.50px;top:526.00px;font-family:'Liberation Sans',sans-serif;font-size:24.5px;font-weight:400;color:#222222;letter-spacing:0.580px;-webkit-text-stroke:0.2px #222;">satisfaction in each department.</div>
<div class="t" style="left:1497.00px;top:1035.00px;font-family:'Liberation Sans',sans-serif;font-size:24.5px;font-weight:400;color:#d0d0d0;letter-spacing:0.628px;">Ask VirtualHR a follow-up question</div>
</div>
</body></html>
